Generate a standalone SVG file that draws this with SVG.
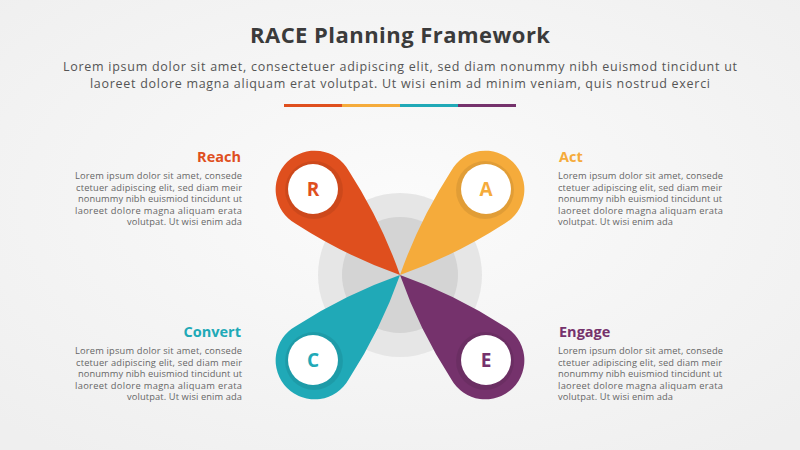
<svg xmlns="http://www.w3.org/2000/svg" xmlns:xlink="http://www.w3.org/1999/xlink" width="800" height="450" viewBox="0 0 800 450">
  <defs>
    <radialGradient id="bg" cx="50%" cy="45%" r="70%">
      <stop offset="0" stop-color="#fbfbfb"/>
      <stop offset="1" stop-color="#efefef"/>
    </radialGradient>
    <path id="petal" d="M0,0 Q-25,-52 -37.5,-110 A39,39 0 1 1 37.5,-110 Q25,-52 0,0 Z"/>
    <style>
      .title{font-family:"Open Sans","Liberation Sans",sans-serif;font-weight:700;font-size:22px;fill:#3b3b3b}
      .sub{font-family:"Open Sans","Liberation Sans",sans-serif;font-size:12.5px;fill:#555}
      .head{font-family:"Open Sans","Liberation Sans",sans-serif;font-weight:700;font-size:14.5px}
      .body{font-family:"Open Sans","Liberation Sans",sans-serif;font-size:9.3px;fill:#666}
      .letter{font-family:"Open Sans","Liberation Sans",sans-serif;font-weight:700;font-size:19px;text-anchor:middle}
      .r{text-anchor:end}
      .shade{fill:#000;opacity:0.08}
    </style>
  </defs>
  <rect width="800" height="450" fill="url(#bg)"/>

  <g id="header">
    <text class="title" x="400" y="43" text-anchor="middle" textLength="300">RACE Planning Framework</text>
    <text class="sub" x="400" y="70.5" text-anchor="middle" textLength="674">Lorem ipsum dolor sit amet, consectetuer adipiscing elit, sed diam nonummy nibh euismod tincidunt ut</text>
    <text class="sub" x="400" y="87.5" text-anchor="middle" textLength="620">laoreet dolore magna aliquam erat volutpat. Ut wisi enim ad minim veniam, quis nostrud exerci</text>
    <rect x="284" y="104" width="58" height="3" fill="#df4f1e"/>
    <rect x="342" y="104" width="58" height="3" fill="#f5ab3b"/>
    <rect x="400" y="104" width="58" height="3" fill="#20a9b7"/>
    <rect x="458" y="104" width="58" height="3" fill="#75326c"/>
  </g>

  <g id="hub">
    <circle cx="400" cy="275" r="82" fill="#e6e6e6"/>
    <circle cx="400" cy="275" r="58" fill="#d4d4d4"/>
  </g>

  <g id="connectors"></g>

  <g id="reach">
    <use xlink:href="#petal" transform="translate(400,275) rotate(-45)" fill="#df4f1e"/>
    <circle class="shade" cx="314" cy="190" r="29"/>
    <circle cx="313" cy="189" r="25" fill="#ffffff"/>
    <text class="letter" x="313" y="196" fill="#df4f1e">R</text>
    <text class="head r" x="241" y="162" fill="#df4f1e">Reach</text>
    <text class="body r" x="242" y="179" textLength="167">Lorem ipsum dolor sit amet, consede</text>
    <text class="body r" x="242" y="190.5" textLength="166">ctetuer adipiscing elit, sed diam meir</text>
    <text class="body r" x="242" y="202" textLength="164">nonummy nibh euismiod tincidunt ut</text>
    <text class="body r" x="242" y="213.5" textLength="167">laoreet dolore magna aliquam erata</text>
    <text class="body r" x="242" y="225" textLength="115">volutpat. Ut wisi enim ada</text>
  </g>

  <g id="act">
    <use xlink:href="#petal" transform="translate(400,275) rotate(45)" fill="#f5ab3b"/>
    <circle class="shade" cx="485" cy="190" r="29"/>
    <circle cx="486" cy="189" r="25" fill="#ffffff"/>
    <text class="letter" x="486" y="196" fill="#f5ab3b">A</text>
    <text class="head" x="559" y="162" fill="#f5ab3b">Act</text>
    <text class="body" x="558" y="179" textLength="165">Lorem ipsum dolor sit amet, consede</text>
    <text class="body" x="558" y="190.5" textLength="164">ctetuer adipiscing elit, sed diam meir</text>
    <text class="body" x="558" y="202" textLength="164">nonummy nibh euismiod tincidunt ut</text>
    <text class="body" x="558" y="213.5" textLength="165">laoreet dolore magna aliquam erata</text>
    <text class="body" x="558" y="225" textLength="115">volutpat. Ut wisi enim ada</text>
  </g>

  <g id="convert">
    <use xlink:href="#petal" transform="translate(400,275) rotate(-135)" fill="#20a9b7"/>
    <circle class="shade" cx="314" cy="361" r="29"/>
    <circle cx="313" cy="360" r="25" fill="#ffffff"/>
    <text class="letter" x="313" y="367" fill="#20a9b7">C</text>
    <text class="head r" x="241" y="337" fill="#20a9b7">Convert</text>
    <text class="body r" x="242" y="354" textLength="167">Lorem ipsum dolor sit amet, consede</text>
    <text class="body r" x="242" y="365.5" textLength="166">ctetuer adipiscing elit, sed diam meir</text>
    <text class="body r" x="242" y="377" textLength="164">nonummy nibh euismiod tincidunt ut</text>
    <text class="body r" x="242" y="388.5" textLength="167">laoreet dolore magna aliquam erata</text>
    <text class="body r" x="242" y="400" textLength="115">volutpat. Ut wisi enim ada</text>
  </g>

  <g id="engage">
    <use xlink:href="#petal" transform="translate(400,275) rotate(135)" fill="#75326c"/>
    <circle class="shade" cx="485" cy="361" r="29"/>
    <circle cx="486" cy="360" r="25" fill="#ffffff"/>
    <text class="letter" x="486" y="367" fill="#75326c">E</text>
    <text class="head" x="559" y="337" fill="#75326c">Engage</text>
    <text class="body" x="558" y="354" textLength="165">Lorem ipsum dolor sit amet, consede</text>
    <text class="body" x="558" y="365.5" textLength="164">ctetuer adipiscing elit, sed diam meir</text>
    <text class="body" x="558" y="377" textLength="164">nonummy nibh euismiod tincidunt ut</text>
    <text class="body" x="558" y="388.5" textLength="165">laoreet dolore magna aliquam erata</text>
    <text class="body" x="558" y="400" textLength="115">volutpat. Ut wisi enim ada</text>
  </g>
</svg>
